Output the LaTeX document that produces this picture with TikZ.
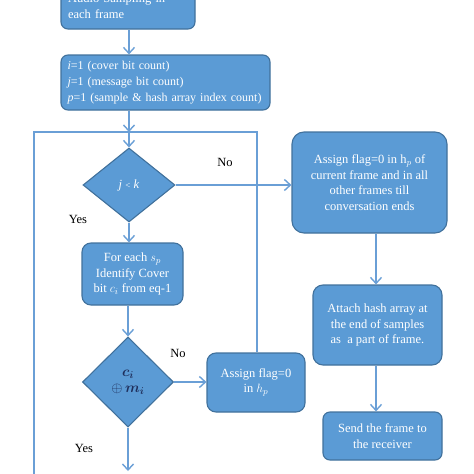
\documentclass[tikz,border=0pt]{standalone}
\usepackage{amsmath}
\usepackage{fontspec}
\setmainfont{Liberation Serif}
\usetikzlibrary{shapes.geometric,arrows.meta}
\definecolor{boxfill}{HTML}{5B9BD5}
\definecolor{boxline}{HTML}{41719C}
\definecolor{conn}{HTML}{6A9FD6}
\definecolor{navy}{HTML}{1F2F5C}
\tikzset{
  procbox/.style={draw=boxline, line width=1.1pt, fill=boxfill, rounded corners=7pt,
    text=white, font=\fontsize{12.5}{15.5}\selectfont, inner sep=0pt, align=center},
  decbox/.style={diamond, draw=boxline, line width=1.1pt, fill=boxfill, inner sep=0pt,
    font=\fontsize{12.5}{15.5}\selectfont},
  conarrow/.style={draw=conn, line width=1.6pt, -{Straight Barb[length=6pt,width=11pt,line width=1.4pt]}},
  conline/.style={draw=conn, line width=1.6pt},
  lbl/.style={font=\fontsize{12.5}{14}\selectfont, text=black, inner sep=0pt}
}
\begin{document}
\begin{tikzpicture}[x=1pt,y=-1pt]
\useasboundingbox (0,0) rectangle (474,474);
\clip (0,0) rectangle (474,474);
% nodes
\node[procbox, minimum width=134pt, minimum height=46pt, align=left, text width=120pt] (top) at (128,6)
  {Audio Sampling in\\each frame};
\node[procbox, minimum width=209pt, minimum height=55pt, align=left, text width=196pt, font=\fontsize{12}{16}\selectfont] (init) at (165.5,82.5)
  {\textit{i}=1 (cover bit count)\\\textit{j}=1 (message bit count)\\\textit{p}=1 (sample \& hash array index count)};
\node[decbox, minimum width=92pt, minimum height=74pt, text=white] (d1) at (129,185) {\textit{j} {\small<} \textit{k}};
\node[procbox, rounded corners=12pt, minimum width=155pt, minimum height=101pt] (r1) at (369.5,182.5)
  {Assign flag=0 in h$_p$ of\\current frame and in all\\other frames till\\conversation ends};
\node[procbox, rounded corners=10pt, minimum width=129pt, minimum height=80pt] (r2) at (377.5,325)
  {Attach hash array at\\the end of samples\\as\ \ a part of frame.};
\node[procbox, minimum width=119pt, minimum height=48pt] (r3) at (382.5,436)
  {Send the frame to\\the receiver};
\node[procbox, rounded corners=9pt, minimum width=101pt, minimum height=62pt] (b3) at (132.5,274)
  {For each $s_p$\\Identify Cover\\bit $c_i$ from eq-1};
\node[decbox, minimum width=91pt, minimum height=90pt, text=navy, align=center, font=\fontsize{14}{16}\selectfont] (d2) at (128,382)
  {$\boldsymbol{c_i}$\\[0pt]$\oplus\, \boldsymbol{m_i}$};
\node[procbox, rounded corners=9pt, minimum width=98pt, minimum height=59pt] (b4) at (256,382.5)
  {Assign flag=0\\in $h_p$};
% labels
\node[lbl] (no1) at (225,162) {No};
\node[lbl] (yes1) at (78,219) {Yes};
\node[lbl] (no2) at (178,353) {No};
\node[lbl] (yes2) at (84,448) {Yes};
% coordinates
\coordinate (J) at (129,132);
\coordinate (L) at (34,480);
\coordinate (E) at (128,471);
% connectors
\draw[conarrow] (top.south -| 129,0) -- (init.north -| 129,0);
\draw[conline] (L) |- (J);
\draw[conline] (b4.north -| 257,0) |- (J);
\draw[conarrow] (init.south -| J) -- (J);
\draw[conarrow] (J) -- (d1.north);
\draw[conarrow] (d1.east) -- (r1.west |- d1.east);
\draw[conarrow] (r1.south -| 376,0) -- (r2.north -| 376,0);
\draw[conarrow] (r2.south -| 376,0) -- (r3.north -| 376,0);
\draw[conarrow] (d1.south) -- (b3.north -| d1.south);
\draw[conarrow] (b3.south -| d2.north) -- (d2.north);
\draw[conarrow] (d2.east) -- (b4.west |- d2.east);
\draw[conarrow] (d2.south) -- (E);
\end{tikzpicture}
\end{document}
